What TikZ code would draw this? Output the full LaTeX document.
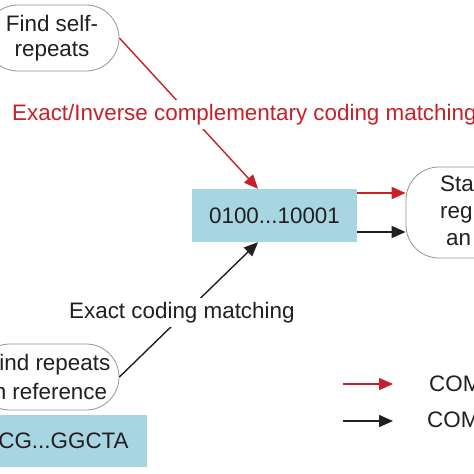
\documentclass[tikz,border=0pt]{standalone}
\usepackage{fontspec}
\setmainfont{Liberation Sans}
\usetikzlibrary{arrows.meta,calc}
\definecolor{redc}{RGB}{200,32,40}
\definecolor{darkc}{RGB}{35,31,32}
\definecolor{boxblue}{RGB}{168,213,226}
\definecolor{edgegray}{RGB}{150,150,150}
\tikzset{
  stadium/.style={draw=edgegray, line width=0.8pt, rounded corners=33pt, minimum width=134pt, minimum height=66pt, inner sep=0pt, align=center, text=darkc, font=\fontsize{22.4}{26}\selectfont},
  codebox/.style={fill=boxblue, draw=none, inner sep=0pt, text=darkc, font=\fontsize{22.4}{26}\selectfont},
  redlink/.style={draw=redc, line width=1.4pt, -{Triangle[length=14pt,width=12pt]}},
  blacklink/.style={draw=darkc, line width=1.4pt, -{Triangle[length=14pt,width=12pt]}},
  redlabel/.style={fill=white, text=redc, inner sep=4pt, font=\fontsize{22.4}{26}\selectfont},
  blacklabel/.style={fill=white, text=darkc, inner sep=4pt, font=\fontsize{22.4}{26}\selectfont},
  plaintext/.style={text=darkc, inner sep=0pt, align=left, font=\fontsize{22.4}{27}\selectfont}
}
\begin{document}
\begin{tikzpicture}[x=1pt,y=-1pt]
\useasboundingbox (0,0) rectangle (474,474);
\clip (0,0) rectangle (474,474);
\fill[white] (0,0) rectangle (474,474);
% nodes
\node[stadium, font=\fontsize{22.4}{25}\selectfont] (self) at (52,38) {Find self-\\repeats};
\node[stadium, minimum width=142pt, font=\fontsize{22.4}{29}\selectfont] (rep) at (48,377) {Find repeats\\in reference};
\node[codebox, minimum width=165pt, minimum height=53pt] (code) at (274.5,215.5) {0100...10001};
\node[codebox, minimum width=167pt, minimum height=52pt] (seq) at (63.5,441) {CG...GGCTA};
\node[stadium, minimum width=140pt, minimum height=91pt] (stat) at (476,212.5) {};
\node[plaintext, anchor=west] (stattext) at (440,211) {Stat\\reg\\\hspace*{6pt}an};
% connectors
\draw[redlink] (self.east) -- ([xshift=-16.5pt]code.north);
\node[redlabel, anchor=base west] (redlab) at (8,120) {Exact/Inverse complementary coding matching};
\draw[blacklink] (rep.east) -- ([xshift=-16.5pt]code.south);
\node[blacklabel, anchor=base west] (blacklab) at (65,318) {Exact coding matching};
\draw[redlink] ([yshift=22.5pt]code.east) -- ([yshift=22.5pt]code.east -| stat.west);
\draw[blacklink] ([yshift=-16.5pt]code.east) -- ([yshift=-16.5pt]code.east -| stat.west);
% legend
\coordinate (l1a) at (343,384);
\coordinate (l1b) at (393,384);
\coordinate (l2a) at (343,421);
\coordinate (l2b) at (393,421);
\draw[redlink] (l1a) -- (l1b);
\draw[blacklink] (l2a) -- (l2b);
\node[plaintext, anchor=base west] (leg1) at (429,391) {COM};
\node[plaintext, anchor=base west] (leg2) at (427,427) {COM};
\end{tikzpicture}
\end{document}
